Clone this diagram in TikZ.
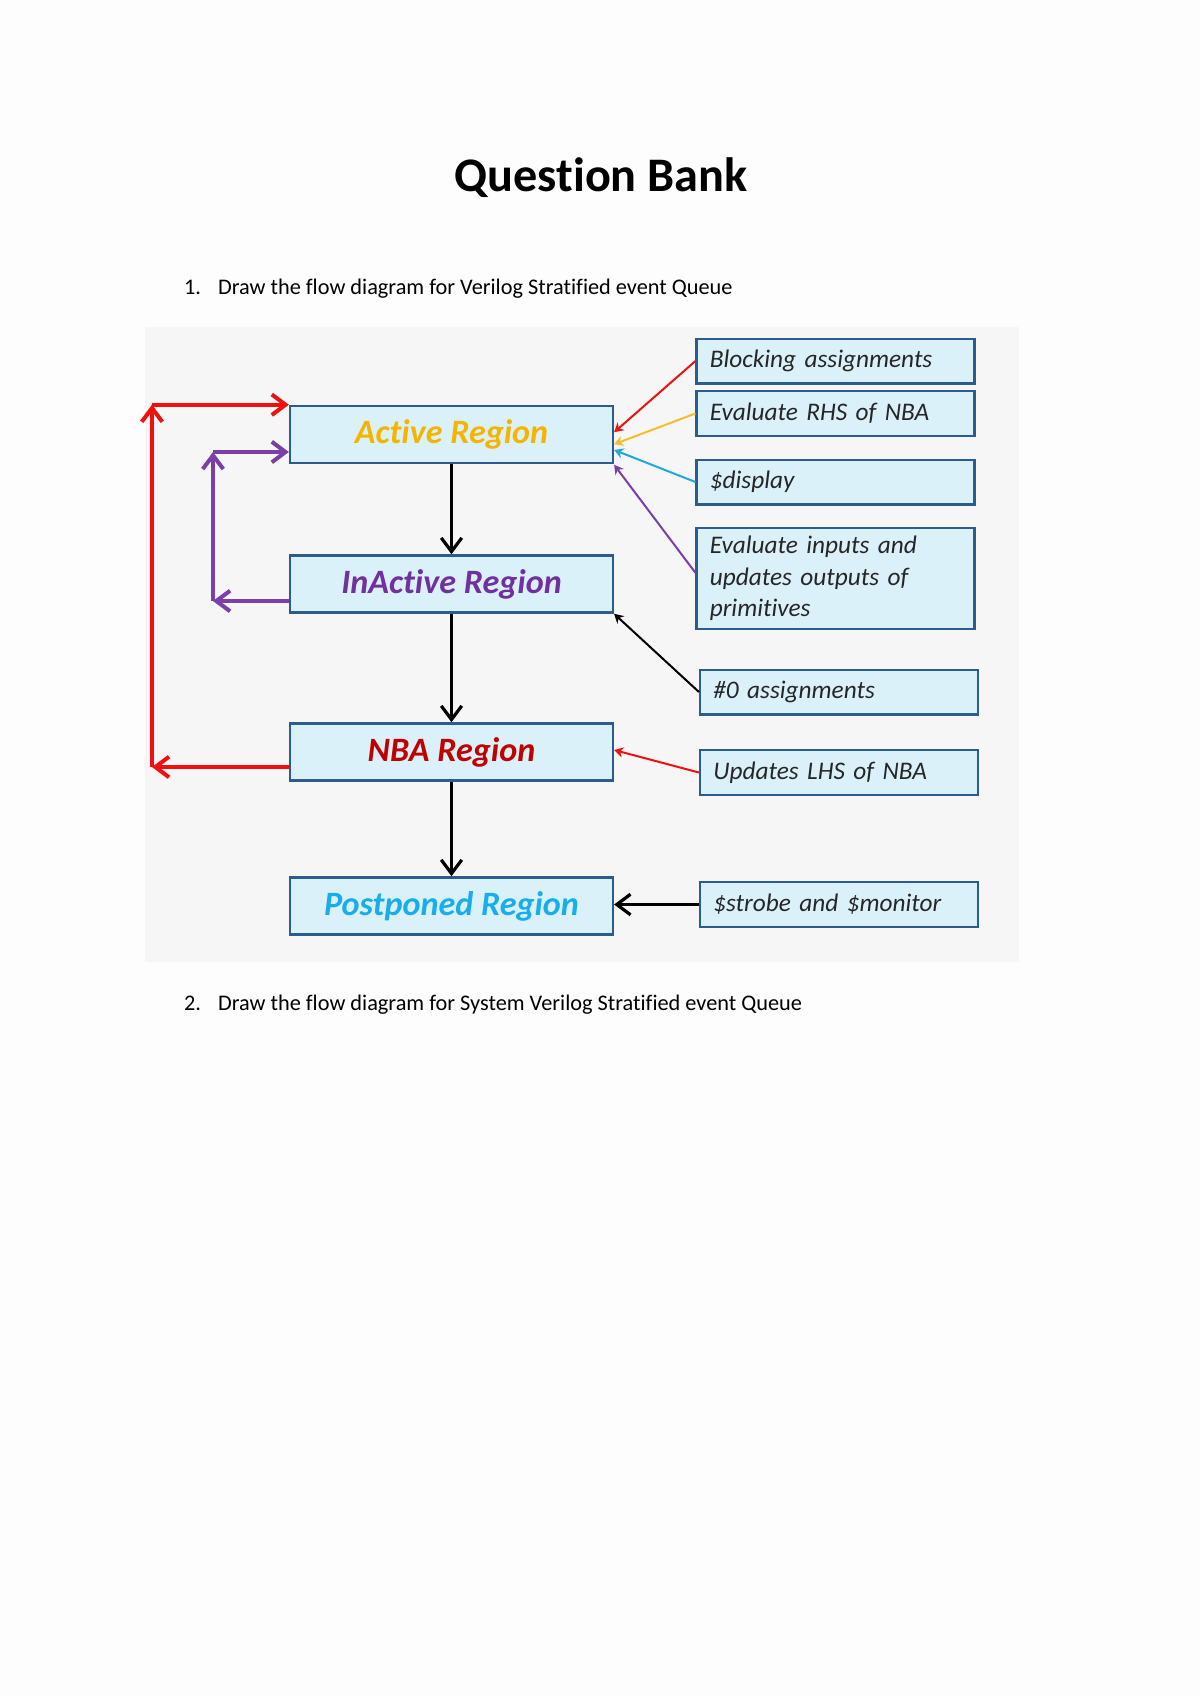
\documentclass[tikz,border=0pt]{standalone}
\usepackage{fontspec}
\setmainfont{Carlito}[Ligatures=NoCommon]
\usepackage{tikz}
\usetikzlibrary{arrows.meta}

\definecolor{boxfill}{HTML}{DBF1F9}
\definecolor{boxline}{HTML}{2B5C91}
\definecolor{actgold}{HTML}{F5B400}
\definecolor{inpurple}{HTML}{7030A0}
\definecolor{nbared}{HTML}{C00000}
\definecolor{postblue}{HTML}{16AEEB}
\definecolor{linered}{HTML}{F01010}
\definecolor{lineorange}{HTML}{F4BE2E}
\definecolor{lineblue}{HTML}{22A8E0}
\definecolor{linepurple}{HTML}{7B3FA8}
\definecolor{panel}{HTML}{F6F6F6}
\definecolor{page}{HTML}{FDFDFD}

\begin{document}
\begin{tikzpicture}[x=0.175mm, y=-0.175mm,
  >={Straight Barb[length=2.4mm,width=3.6mm]},
  regionbox/.style={draw=boxline, line width=1.2pt, fill=boxfill, minimum width=56.5mm, minimum height=10mm, font=\fontsize{17}{20}\selectfont\bfseries\itshape},
  taskbox/.style={draw=boxline, line width=1.2pt, fill=boxfill, text width=44mm, inner xsep=2.3mm, minimum height=7.8mm, align=left, font=\fontsize{12.6}{15.7}\selectfont\itshape, text=black!85},
  qtext/.style={anchor=base west, font=\fontsize{11.1}{13}\selectfont},
  flow/.style={->, line width=1.6pt},
  backline/.style={->, line width=2pt},
  inlink/.style={-{Stealth[length=1.6mm,width=1.8mm]}, line width=1pt}]
  \fill[page] (0,0) rectangle (1200,1696);
  \useasboundingbox (0,0) rectangle (1200,1696);
  \fill[panel] (145,327) rectangle (1019,962);

  \node[anchor=base, font=\fontsize{24}{28}\selectfont\bfseries] (title) at (601,191) {Question Bank};
  \node[qtext] (num1) at (177,294) {1.};
  \node[qtext] (q1) at (211,294) {Draw the flow diagram for Verilog Stratified event Queue};
  \node[qtext] (num2) at (177,1010) {2.};
  \node[qtext] (q2) at (211,1010) {Draw the flow diagram for System Verilog Stratified event Queue};

  \node[regionbox, text=actgold] (active) at (451.5,434.5) {Active Region};
  \node[regionbox, text=inpurple] (inactive) at (451.5,584) {InActive Region};
  \node[regionbox, text=nbared] (nba) at (451.5,752) {NBA Region};
  \node[regionbox, text=postblue] (postponed) at (451.5,906) {Postponed Region};

  \node[taskbox] (blocking) at (835.5,361) {Blocking assignments};
  \node[taskbox] (rhs) at (835.5,413.5) {Evaluate RHS of NBA};
  \node[taskbox] (display) at (835.5,482) {\$display};
  \node[taskbox, minimum height=17.7mm] (prims) at (835.5,578.5) {Evaluate inputs and\\ updates outputs of\\ primitives};
  \node[taskbox] (zero) at (839,692) {\#0 assignments};
  \node[taskbox] (lhs) at (839,772.5) {Updates LHS of NBA};
  \node[taskbox] (strobe) at (839,904.5) {\$strobe and \$monitor};

  \path[flow]
  (active) edge (inactive)
  (inactive) edge (nba)
  (nba) edge (postponed)
  (strobe.west) edge (strobe.west -| postponed.east);

  \path[inlink]
  (blocking.west) edge[linered] ([yshift=0.4mm]active.east)
  (rhs.west) edge[lineorange] ([yshift=-1.7mm]active.east)
  (display.west) edge[lineblue] ([yshift=-2.7mm]active.east)
  ([yshift=1mm]prims.west) edge[linepurple] ([yshift=-5.3mm]active.east)
  (zero.west) edge[black] (inactive.south east)
  (lhs.west) edge[linered] ([yshift=0.35mm]nba.east);

  \coordinate (redlow) at (152,767);
  \coordinate (redhigh) at (active.north west -| redlow);
  \coordinate (purlow) at (213,601);
  \coordinate (purhigh) at (213,452);
  \path[backline, linered]
  (redlow -| nba.west) edge (redlow)
  (redlow) edge (redhigh)
  (redhigh) edge (active.north west);
  \path[backline, linepurple]
  (purlow -| inactive.west) edge (purlow)
  (purlow) edge (purhigh)
  (purhigh) edge (purhigh -| active.west);
\end{tikzpicture}
\end{document}
